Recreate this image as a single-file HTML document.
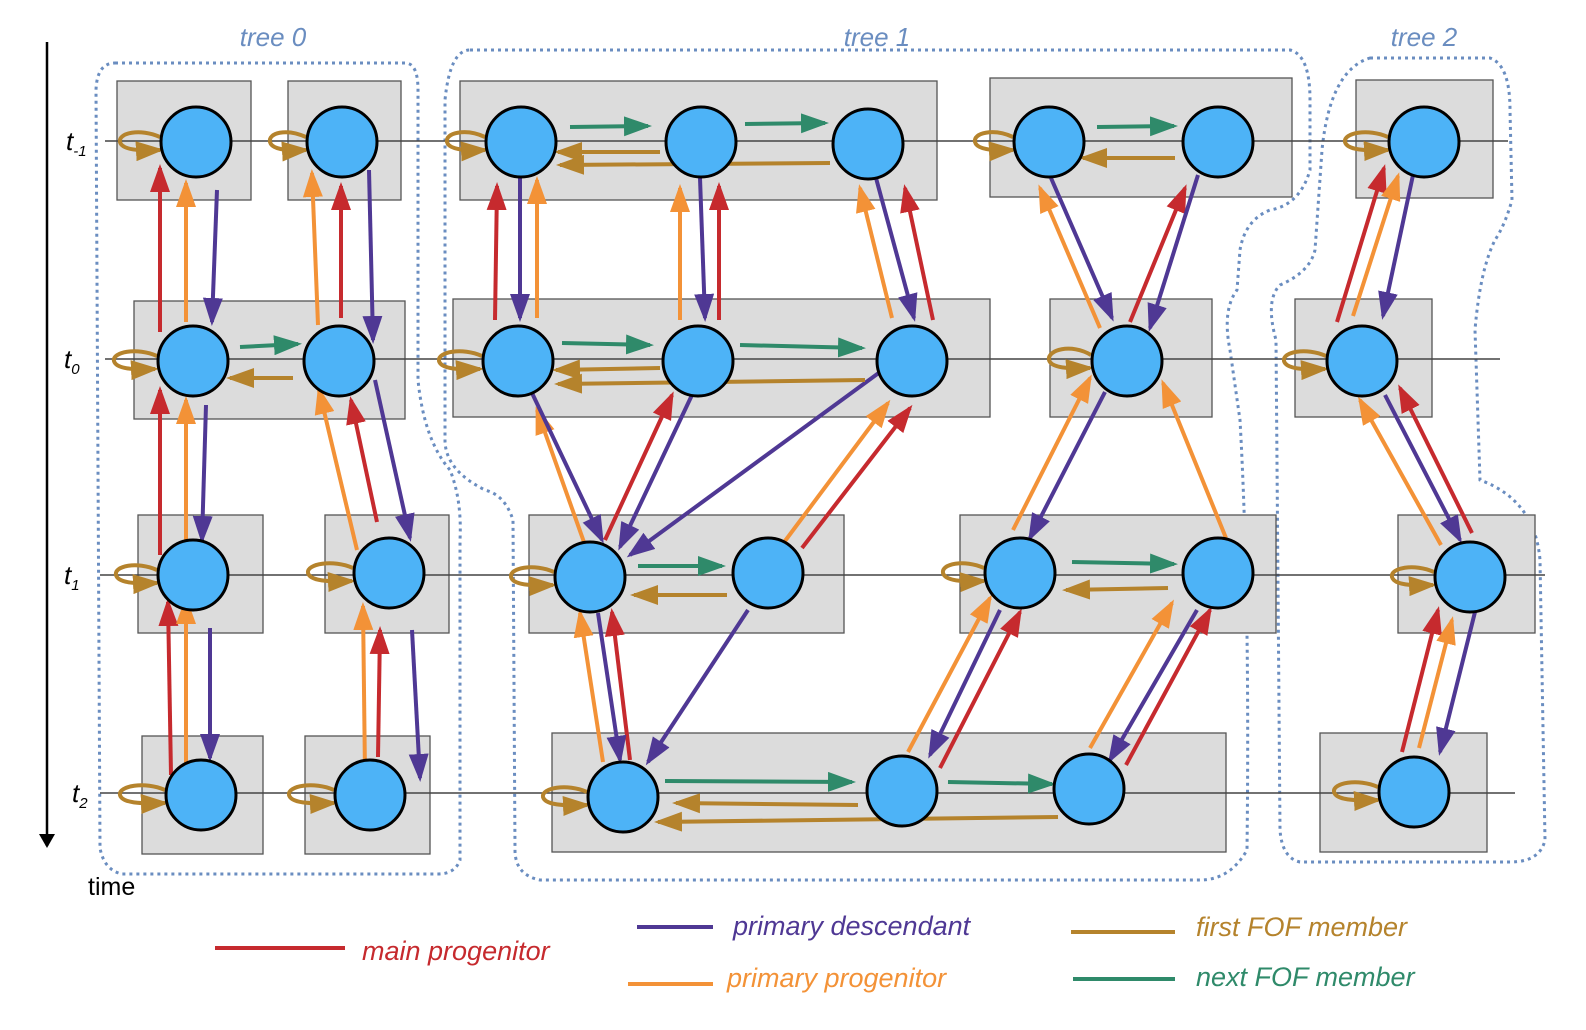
<!DOCTYPE html>
<html><head><meta charset="utf-8"><style>
html,body{margin:0;padding:0;background:#fff;overflow:hidden;width:1586px;height:1030px;}
svg{display:block;}
text{font-family:"Liberation Sans",sans-serif;}
</style></head><body>
<svg width="1586" height="1030" viewBox="0 0 1586 1030" xmlns="http://www.w3.org/2000/svg">
<defs>
<marker id="r" markerUnits="userSpaceOnUse" markerWidth="28" markerHeight="20" refX="24" refY="10" orient="auto"><path d="M0,0 L28,10 L0,20 z" fill="#c62a2e"/></marker>
<marker id="o" markerUnits="userSpaceOnUse" markerWidth="28" markerHeight="20" refX="24" refY="10" orient="auto"><path d="M0,0 L28,10 L0,20 z" fill="#f39237"/></marker>
<marker id="p" markerUnits="userSpaceOnUse" markerWidth="28" markerHeight="20" refX="24" refY="10" orient="auto"><path d="M0,0 L28,10 L0,20 z" fill="#4f3894"/></marker>
<marker id="g" markerUnits="userSpaceOnUse" markerWidth="28" markerHeight="20" refX="24" refY="10" orient="auto"><path d="M0,0 L28,10 L0,20 z" fill="#b5832c"/></marker>
<marker id="n" markerUnits="userSpaceOnUse" markerWidth="28" markerHeight="20" refX="24" refY="10" orient="auto"><path d="M0,0 L28,10 L0,20 z" fill="#2f8a6a"/></marker>
<marker id="k" markerUnits="userSpaceOnUse" markerWidth="14" markerHeight="16" refX="12" refY="8" orient="auto"><path d="M0,0 L14,8 L0,16 z" fill="#000"/></marker>
</defs>

<g fill="none" stroke="#6a8dc0" stroke-width="3" stroke-dasharray="3,4">
<path d="M115 63 H405 Q418 63 418 90 L418 380 Q424 440 450 470 Q462 500 460 540 L460 860 Q455 874 438 874 H122 Q104 870 100 848 L96 90 Q97 63 115 63 Z"/>
<path d="M470 50 H1290 Q1310 55 1310 100 L1310 170 Q1300 205 1270 210 Q1245 220 1240 250 L1237 290 Q1222 310 1230 350 L1240 420 Q1250 600 1247 850 Q1230 880 1200 880 H540 Q515 875 515 850 L513 520 Q505 495 485 490 Q445 470 445 440 L445 100 Q450 50 470 50 Z"/>
<path d="M1370 58 H1490 Q1510 65 1510 110 L1512 200 Q1505 225 1495 240 Q1480 270 1475 330 L1480 480 Q1535 500 1540 560 L1545 840 Q1540 862 1510 862 H1300 Q1282 858 1280 830 L1276 340 Q1265 300 1280 285 Q1310 272 1315 250 L1322 150 Q1330 70 1370 58 Z"/>
</g>
<g font-style="italic" font-size="26" fill="#6a8dc0" text-anchor="middle">
<text x="273" y="46">tree 0</text><text x="877" y="46">tree 1</text><text x="1424" y="46">tree 2</text>
</g>

<g fill="#dcdcdc" stroke="#555" stroke-width="1.3">
<rect x="117" y="81" width="134" height="119"/><rect x="288" y="81" width="113" height="119"/>
<rect x="460" y="81" width="477" height="119"/><rect x="990" y="78" width="302" height="119"/>
<rect x="1356" y="80" width="137" height="118"/>
<rect x="134" y="301" width="271" height="118"/><rect x="453" y="299" width="537" height="118"/>
<rect x="1050" y="299" width="162" height="118"/><rect x="1295" y="299" width="137" height="118"/>
<rect x="138" y="515" width="125" height="118"/><rect x="325" y="515" width="124" height="118"/>
<rect x="529" y="515" width="315" height="118"/><rect x="960" y="515" width="316" height="118"/>
<rect x="1398" y="515" width="137" height="118"/>
<rect x="142" y="736" width="121" height="118"/><rect x="305" y="736" width="125" height="118"/>
<rect x="552" y="733" width="674" height="119"/><rect x="1320" y="733" width="167" height="119"/>
</g>
<g stroke="#444" stroke-width="1.5">
<line x1="105" y1="141" x2="1508" y2="141"/><line x1="105" y1="359" x2="1500" y2="359"/>
<line x1="100" y1="575" x2="1545" y2="575"/><line x1="100" y1="793" x2="1515" y2="793"/>
</g>
<line x1="47" y1="42" x2="47" y2="846" stroke="#000" stroke-width="2.5" marker-end="url(#k)"/>
<g font-family="Liberation Serif" font-style="italic" font-size="26">
<text x="66" y="150">t<tspan font-size="15" dy="6">-1</tspan></text>
<text x="64" y="368">t<tspan font-size="15" dy="6">0</tspan></text>
<text x="64" y="584">t<tspan font-size="15" dy="6">1</tspan></text>
<text x="72" y="802">t<tspan font-size="15" dy="6">2</tspan></text>
</g>
<text x="88" y="895" font-size="25">time</text>

<g fill="none" stroke="#b5832c" stroke-width="4" marker-end="url(#g)">
<path d="M160 137 C140 128 118 133 120 142 C122 150 140 151 160 150"/>
<path d="M306 137 C286 128 268 133 270 142 C272 150 290 151 306 150"/>
<path d="M485 137 C465 128 445 133 447 142 C449 150 467 151 485 150"/>
<path d="M1013 137 C993 128 973 133 975 142 C977 150 995 151 1013 150"/>
<path d="M1388 137 C1368 128 1343 133 1345 142 C1347 150 1365 151 1388 150"/>
<path d="M157 356 C137 347 112 352 114 361 C116 369 134 370 155 369"/>
<path d="M482 356 C462 347 437 352 439 361 C441 369 459 370 480 369"/>
<path d="M1091 355 C1071 343 1047 350 1049 360 C1051 368 1069 369 1090 368"/>
<path d="M1326 356 C1306 347 1282 352 1284 361 C1286 369 1304 370 1325 369"/>
<path d="M157 570 C137 561 114 566 116 575 C118 583 136 584 157 583"/>
<path d="M353 568 C333 559 306 564 308 573 C310 581 328 582 352 581"/>
<path d="M554 572 C534 563 509 568 511 577 C513 585 531 586 553 585"/>
<path d="M984 568 C964 559 941 564 943 573 C945 581 963 582 984 581"/>
<path d="M1434 572 C1414 563 1390 568 1392 577 C1394 585 1412 586 1433 585"/>
<path d="M165 790 C145 781 118 786 120 795 C122 803 140 804 165 803"/>
<path d="M334 790 C314 781 287 786 289 795 C291 803 309 804 334 803"/>
<path d="M587 792 C567 783 541 788 543 797 C545 805 563 806 587 805"/>
<path d="M1378 787 C1358 778 1332 783 1334 792 C1336 800 1354 801 1378 800"/>
</g>

<g stroke-width="4" fill="none">
<g stroke="#c62a2e" marker-end="url(#r)">
<line x1="160" y1="332" x2="160" y2="168"/><line x1="341" y1="318" x2="341" y2="186"/>
<line x1="160" y1="555" x2="160" y2="390"/><line x1="377" y1="522" x2="351" y2="400"/>
<line x1="171" y1="775" x2="168" y2="602"/><line x1="378" y1="757" x2="380" y2="630"/>
<line x1="495" y1="320" x2="497" y2="186"/><line x1="719" y1="320" x2="719" y2="186"/>
<line x1="933" y1="320" x2="905" y2="188"/><line x1="1130" y1="322" x2="1185" y2="188"/>
<line x1="1337" y1="322" x2="1384" y2="168"/>
<line x1="605" y1="540" x2="672" y2="395"/><line x1="802" y1="548" x2="910" y2="408"/>
<line x1="1472" y1="533" x2="1400" y2="388"/>
<line x1="630" y1="760" x2="612" y2="612"/><line x1="940" y1="768" x2="1020" y2="612"/>
<line x1="1126" y1="765" x2="1210" y2="610"/><line x1="1402" y1="752" x2="1438" y2="610"/>
</g>
<g stroke="#f39237" marker-end="url(#o)">
<line x1="186" y1="322" x2="186" y2="183"/><line x1="318" y1="325" x2="312" y2="173"/>
<line x1="186" y1="540" x2="186" y2="400"/><line x1="357" y1="550" x2="319" y2="390"/>
<line x1="186" y1="772" x2="186" y2="600"/><line x1="365" y1="775" x2="363" y2="606"/>
<line x1="537" y1="318" x2="537" y2="180"/><line x1="680" y1="320" x2="680" y2="188"/>
<line x1="892" y1="318" x2="860" y2="188"/><line x1="1100" y1="328" x2="1040" y2="188"/>
<line x1="1353" y1="316" x2="1398" y2="176"/>
<line x1="585" y1="545" x2="537" y2="410"/><line x1="782" y1="545" x2="888" y2="403"/>
<line x1="1013" y1="530" x2="1090" y2="378"/><line x1="1226" y1="538" x2="1163" y2="383"/>
<line x1="1441" y1="545" x2="1360" y2="400"/>
<line x1="603" y1="762" x2="580" y2="613"/><line x1="908" y1="752" x2="990" y2="598"/>
<line x1="1090" y1="748" x2="1172" y2="603"/><line x1="1419" y1="748" x2="1452" y2="620"/>
</g>
<g stroke="#4f3894" marker-end="url(#p)">
<line x1="217" y1="190" x2="212" y2="322"/><line x1="369" y1="170" x2="373" y2="340"/>
<line x1="206" y1="405" x2="202" y2="540"/><line x1="375" y1="380" x2="410" y2="538"/>
<line x1="210" y1="628" x2="210" y2="758"/><line x1="412" y1="630" x2="420" y2="778"/>
<line x1="520" y1="177" x2="520" y2="318"/><line x1="700" y1="178" x2="705" y2="318"/>
<line x1="876" y1="178" x2="914" y2="318"/><line x1="1051" y1="178" x2="1112" y2="318"/>
<line x1="1198" y1="175" x2="1150" y2="328"/><line x1="1413" y1="175" x2="1383" y2="316"/>
<line x1="532" y1="393" x2="602" y2="540"/><line x1="692" y1="395" x2="620" y2="547"/>
<line x1="880" y1="372" x2="630" y2="555"/><line x1="1105" y1="392" x2="1030" y2="538"/>
<line x1="1385" y1="395" x2="1460" y2="540"/>
<line x1="598" y1="613" x2="620" y2="760"/><line x1="748" y1="610" x2="648" y2="762"/>
<line x1="1000" y1="610" x2="930" y2="755"/><line x1="1197" y1="610" x2="1110" y2="760"/>
<line x1="1475" y1="612" x2="1440" y2="752"/>
</g>
<g stroke="#2f8a6a" marker-end="url(#n)">
<line x1="240" y1="347" x2="298" y2="344"/><line x1="570" y1="127" x2="648" y2="126"/>
<line x1="745" y1="124" x2="825" y2="123"/><line x1="1097" y1="127" x2="1174" y2="126"/>
<line x1="562" y1="343" x2="650" y2="345"/><line x1="740" y1="345" x2="862" y2="348"/>
<line x1="638" y1="566" x2="722" y2="566"/><line x1="1072" y1="562" x2="1174" y2="564"/>
<line x1="665" y1="781" x2="852" y2="782"/><line x1="948" y1="782" x2="1052" y2="784"/>
</g>
<g stroke="#b5832c" marker-end="url(#g)">
<line x1="293" y1="378" x2="230" y2="378"/><line x1="660" y1="152" x2="558" y2="152"/>
<line x1="830" y1="163" x2="560" y2="165"/><line x1="1175" y1="158" x2="1083" y2="158"/>
<line x1="660" y1="368" x2="556" y2="370"/><line x1="865" y1="380" x2="558" y2="384"/>
<line x1="727" y1="595" x2="634" y2="595"/><line x1="1168" y1="588" x2="1066" y2="590"/>
<line x1="858" y1="805" x2="676" y2="803"/><line x1="1058" y1="817" x2="658" y2="822"/>
</g>
</g>

<g fill="#4db3f7" stroke="#000" stroke-width="3">
<circle cx="196" cy="142" r="35"/><circle cx="342" cy="142" r="35"/><circle cx="521" cy="142" r="35"/>
<circle cx="701" cy="142" r="35"/><circle cx="868" cy="144" r="35"/><circle cx="1049" cy="142" r="35"/>
<circle cx="1218" cy="142" r="35"/><circle cx="1424" cy="142" r="35"/>
<circle cx="193" cy="361" r="35"/><circle cx="339" cy="361" r="35"/><circle cx="518" cy="361" r="35"/>
<circle cx="698" cy="361" r="35"/><circle cx="912" cy="361" r="35"/><circle cx="1127" cy="361" r="35"/>
<circle cx="1362" cy="361" r="35"/>
<circle cx="193" cy="575" r="35"/><circle cx="389" cy="573" r="35"/><circle cx="590" cy="577" r="35"/>
<circle cx="768" cy="573" r="35"/><circle cx="1020" cy="573" r="35"/><circle cx="1218" cy="573" r="35"/>
<circle cx="1470" cy="577" r="35"/>
<circle cx="201" cy="795" r="35"/><circle cx="370" cy="795" r="35"/><circle cx="623" cy="797" r="35"/>
<circle cx="902" cy="791" r="35"/><circle cx="1089" cy="789" r="35"/><circle cx="1414" cy="792" r="35"/>
</g>

<g stroke-width="4">
<line x1="215" y1="948" x2="345" y2="948" stroke="#c62a2e"/>
<line x1="637" y1="927" x2="713" y2="927" stroke="#4f3894"/>
<line x1="628" y1="984" x2="713" y2="984" stroke="#f39237"/>
<line x1="1071" y1="932" x2="1175" y2="932" stroke="#b5832c"/>
<line x1="1073" y1="979" x2="1175" y2="979" stroke="#2f8a6a"/>
</g>
<g font-style="italic" font-size="27">
<text x="362" y="960" fill="#c62a2e">main progenitor</text>
<text x="733" y="935" fill="#4f3894">primary descendant</text>
<text x="727" y="987" fill="#f39237">primary progenitor</text>
<text x="1196" y="936" fill="#b5832c">first FOF member</text>
<text x="1196" y="986" fill="#2f8a6a">next FOF member</text>
</g>
</svg>
</body></html>
